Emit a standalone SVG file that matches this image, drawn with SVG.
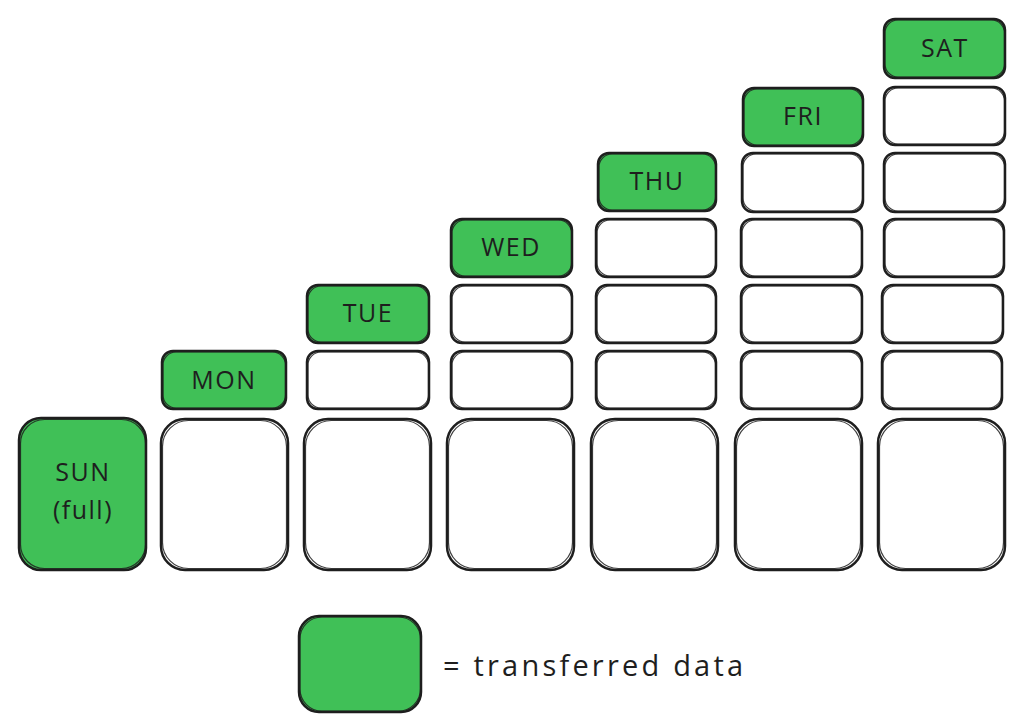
<svg xmlns="http://www.w3.org/2000/svg" width="1024" height="728" viewBox="0 0 1024 728">
<style>
.b{fill:#ffffff;stroke:#1e1e1e;stroke-width:2.5}
.g{fill:#40c057;stroke:#1e1e1e;stroke-width:2.5}
.s{fill:none;stroke:#1e1e1e;stroke-width:1.2;opacity:0.85}
.t{font-family:"Open Sans","DejaVu Sans",sans-serif;font-size:25px;fill:#1e1e1e;text-anchor:middle;letter-spacing:1.5px}
.l{font-family:"Open Sans","DejaVu Sans",sans-serif;font-size:29px;fill:#1e1e1e;letter-spacing:3.2px}
</style>
<rect width="1024" height="728" fill="#ffffff"/>
<g id="sun"><rect class="g" x="19" y="418" width="127" height="152" rx="22"/><rect class="s" x="20.5" y="419.5" width="125" height="149" rx="24"/><text class="t" x="83" y="481">SUN</text><text class="t" x="83" y="519">(full)</text></g>
<g id="col-mon">
<rect class="b" x="161" y="419" width="127" height="151" rx="24"/><rect class="s" x="162.5" y="420.5" width="124" height="148" rx="26"/>
<rect class="g" x="162" y="351" width="124" height="58" rx="11"/><rect class="s" x="163" y="352" width="122.5" height="56" rx="13"/>
<text class="t" x="224" y="389">MON</text></g>
<g id="col-tue">
<rect class="b" x="304" y="419" width="127" height="151" rx="24"/><rect class="s" x="305.5" y="420.5" width="124" height="148" rx="26"/>
<rect class="b" x="307" y="351" width="122" height="58" rx="11"/><rect class="s" x="308" y="352" width="120.5" height="56" rx="13"/>
<rect class="g" x="307" y="285" width="122" height="58" rx="11"/><rect class="s" x="308" y="286" width="120.5" height="56" rx="13"/>
<text class="t" x="368" y="322">TUE</text></g>
<g id="col-wed">
<rect class="b" x="447" y="419" width="127" height="151" rx="24"/><rect class="s" x="448.5" y="420.5" width="124" height="148" rx="26"/>
<rect class="b" x="451" y="351" width="121" height="58" rx="11"/><rect class="s" x="452" y="352" width="119.5" height="56" rx="13"/>
<rect class="b" x="451" y="285" width="121" height="58" rx="11"/><rect class="s" x="452" y="286" width="119.5" height="56" rx="13"/>
<rect class="g" x="451" y="219" width="121" height="58" rx="11"/><rect class="s" x="452" y="220" width="119.5" height="56" rx="13"/>
<text class="t" x="511" y="256">WED</text></g>
<g id="col-thu">
<rect class="b" x="591" y="419" width="127" height="151" rx="24"/><rect class="s" x="592.5" y="420.5" width="124" height="148" rx="26"/>
<rect class="b" x="596" y="351" width="120" height="58" rx="11"/><rect class="s" x="597" y="352" width="118.5" height="56" rx="13"/>
<rect class="b" x="596" y="285" width="120" height="58" rx="11"/><rect class="s" x="597" y="286" width="118.5" height="56" rx="13"/>
<rect class="b" x="596" y="219" width="120" height="58" rx="11"/><rect class="s" x="597" y="220" width="118.5" height="56" rx="13"/>
<rect class="g" x="598" y="153" width="118" height="58" rx="11"/><rect class="s" x="599" y="154" width="116.5" height="56" rx="13"/>
<text class="t" x="657" y="190">THU</text></g>
<g id="col-fri">
<rect class="b" x="735" y="419" width="127" height="151" rx="24"/><rect class="s" x="736.5" y="420.5" width="124" height="148" rx="26"/>
<rect class="b" x="741" y="351" width="121" height="58" rx="11"/><rect class="s" x="742" y="352" width="119.5" height="56" rx="13"/>
<rect class="b" x="741" y="285" width="121" height="58" rx="11"/><rect class="s" x="742" y="286" width="119.5" height="56" rx="13"/>
<rect class="b" x="741" y="219" width="121" height="58" rx="11"/><rect class="s" x="742" y="220" width="119.5" height="56" rx="13"/>
<rect class="b" x="742" y="153" width="121" height="59" rx="11"/><rect class="s" x="743" y="154" width="119.5" height="57" rx="13"/>
<rect class="g" x="743" y="88" width="120" height="58" rx="11"/><rect class="s" x="744" y="89" width="118.5" height="56" rx="13"/>
<text class="t" x="803" y="125">FRI</text></g>
<g id="col-sat">
<rect class="b" x="878" y="419" width="127" height="151" rx="24"/><rect class="s" x="879.5" y="420.5" width="124" height="148" rx="26"/>
<rect class="b" x="882" y="351" width="120" height="58" rx="11"/><rect class="s" x="883" y="352" width="118.5" height="56" rx="13"/>
<rect class="b" x="882" y="285" width="121" height="58" rx="11"/><rect class="s" x="883" y="286" width="119.5" height="56" rx="13"/>
<rect class="b" x="884" y="219" width="120" height="58" rx="11"/><rect class="s" x="885" y="220" width="118.5" height="56" rx="13"/>
<rect class="b" x="884" y="153" width="121" height="59" rx="11"/><rect class="s" x="885" y="154" width="119.5" height="57" rx="13"/>
<rect class="b" x="884" y="87" width="121" height="58" rx="11"/><rect class="s" x="885" y="88" width="119.5" height="56" rx="13"/>
<rect class="g" x="884" y="19" width="121" height="59" rx="11"/><rect class="s" x="885" y="20" width="119.5" height="57" rx="13"/>
<text class="t" x="945" y="57">SAT</text></g>
<g id="legend">
<rect class="g" x="299" y="616" width="122" height="96" rx="20"/><rect class="s" x="300" y="617" width="120.5" height="94" rx="22"/>
<text class="l" x="443" y="676">= transferred data</text></g>
<g id="connectors"/>
</svg>
